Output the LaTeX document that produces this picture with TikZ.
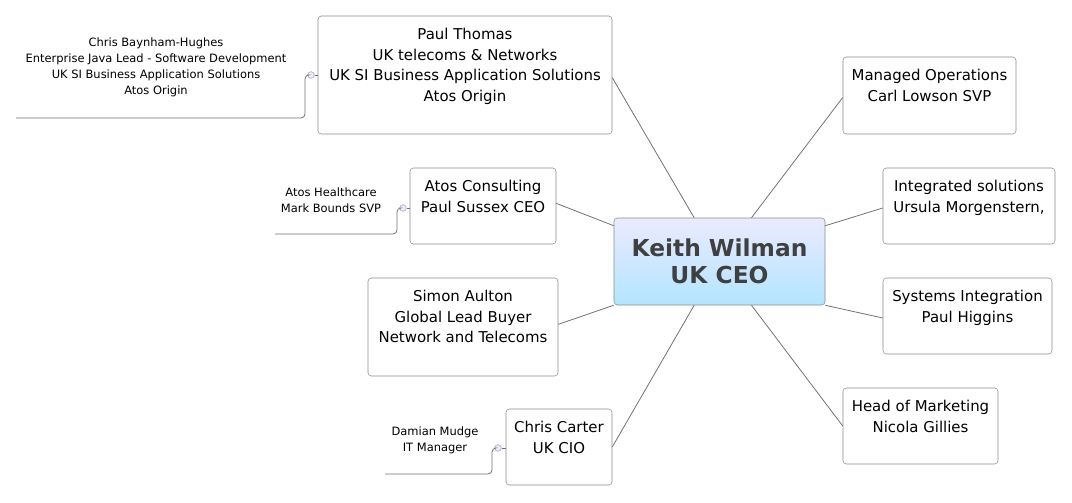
\documentclass[tikz,border=0pt]{standalone}
\usepackage{fontspec}
\setmainfont{DejaVu Sans}
\usetikzlibrary{calc}
\begin{document}
\begin{tikzpicture}[x=0.75pt,y=-0.75pt,
  box/.style={draw=black!45,rounded corners=2.5pt,fill=white,inner sep=0pt},
  txt/.style={anchor=north,align=center,font=\fontsize{11.2}{15.5}\selectfont,inner sep=0pt},
  lab/.style={align=center,font=\fontsize{8.6}{12}\selectfont,inner sep=0pt},
  conn/.style={draw=black!55,line width=0.6pt},
  und/.style={draw=black!55,line width=0.6pt,rounded corners=3pt},
  knob/.style={circle,draw=black!35,fill=blue!8,minimum size=5pt,inner sep=0pt}]
\useasboundingbox (0,0) rectangle (1072,503);
\fill[white] (0,0) rectangle (1072,503);
\node[box,minimum width=211*0.75pt,minimum height=87*0.75pt,top color=blue!8,bottom color=blue!35!cyan!30,align=center,font=\fontsize{17.5}{20.5}\selectfont\bfseries,text=black!75] (c) at (719.5,261.5) {Keith Wilman\\UK CEO};
\newcommand\bx[6]{\node[box,minimum width=#3*0.75pt,minimum height=#4*0.75pt] (#1) at (#2) {};
  \node[txt] (#1t) at ([yshift=-#5pt]#1.north) {#6};}
\bx{pt}{465,75}{294}{118}{9}{Paul Thomas\\UK telecoms \& Networks\\UK SI Business Application Solutions\\Atos Origin}
\bx{ac}{483,206}{146}{76}{9}{Atos Consulting\\Paul Sussex CEO}
\bx{sa}{463,327}{190}{98}{9}{Simon Aulton\\Global Lead Buyer\\Network and Telecoms}
\bx{cc}{559,447}{106}{76}{9}{Chris Carter\\UK CIO}
\bx{mo}{929.5,95.5}{173}{77}{9}{Managed Operations\\Carl Lowson SVP}
\bx{is}{969,206}{172}{76}{9}{Integrated solutions\\Ursula Morgenstern,}
\bx{si}{967.5,316}{169}{76}{9}{Systems Integration\\Paul Higgins}
\bx{hm}{920.5,426}{155}{76}{9}{Head of Marketing\\Nicola Gillies}
\draw[conn] ([xshift=-19pt]c.north) -- ([yshift=-2pt]pt.east);
\draw[conn] ([yshift=-6pt]c.north west) -- ([yshift=2pt]ac.east);
\draw[conn] (c.south west) -- ([yshift=2pt]sa.east);
\draw[conn] ([xshift=-19pt]c.south) -- (cc.east);
\draw[conn] ([xshift=24pt]c.north) -- ([yshift=-1.5pt]mo.west);
\draw[conn] ([yshift=-6pt]c.north east) -- ([yshift=-1.5pt]is.west);
\draw[conn] (c.south east) -- ([yshift=-1.5pt]si.west);
\draw[conn] ([xshift=24pt]c.south) -- ([yshift=0pt]hm.west);
\node[lab] (cb) at (156,67) {Chris Baynham-Hughes\\Enterprise Java Lead - Software Development\\UK SI Business Application Solutions\\Atos Origin};
\node[knob] (k1) at (311,75) {};
\coordinate (e1) at (16,118);
\draw[und] (e1) -- (305,118) -- (305,75) -- (k1.west);
\draw[conn] (k1.east) -- (pt.west|-k1);
\node[lab] (ah) at (331,200) {Atos Healthcare\\Mark Bounds SVP};
\node[knob] (k2) at (403,208) {};
\coordinate (e2) at (275,234);
\draw[und] (e2) -- (397,234) -- (397,208) -- (k2.west);
\draw[conn] (k2.east) -- (ac.west|-k2);
\node[lab] (dm) at (435,440) {Damian Mudge\\IT Manager};
\node[knob] (k3) at (498,448) {};
\coordinate (e3) at (385,474);
\draw[und] (e3) -- (492,474) -- (492,448) -- (k3.west);
\draw[conn] (k3.east) -- (cc.west|-k3);
\end{tikzpicture}
\end{document}
